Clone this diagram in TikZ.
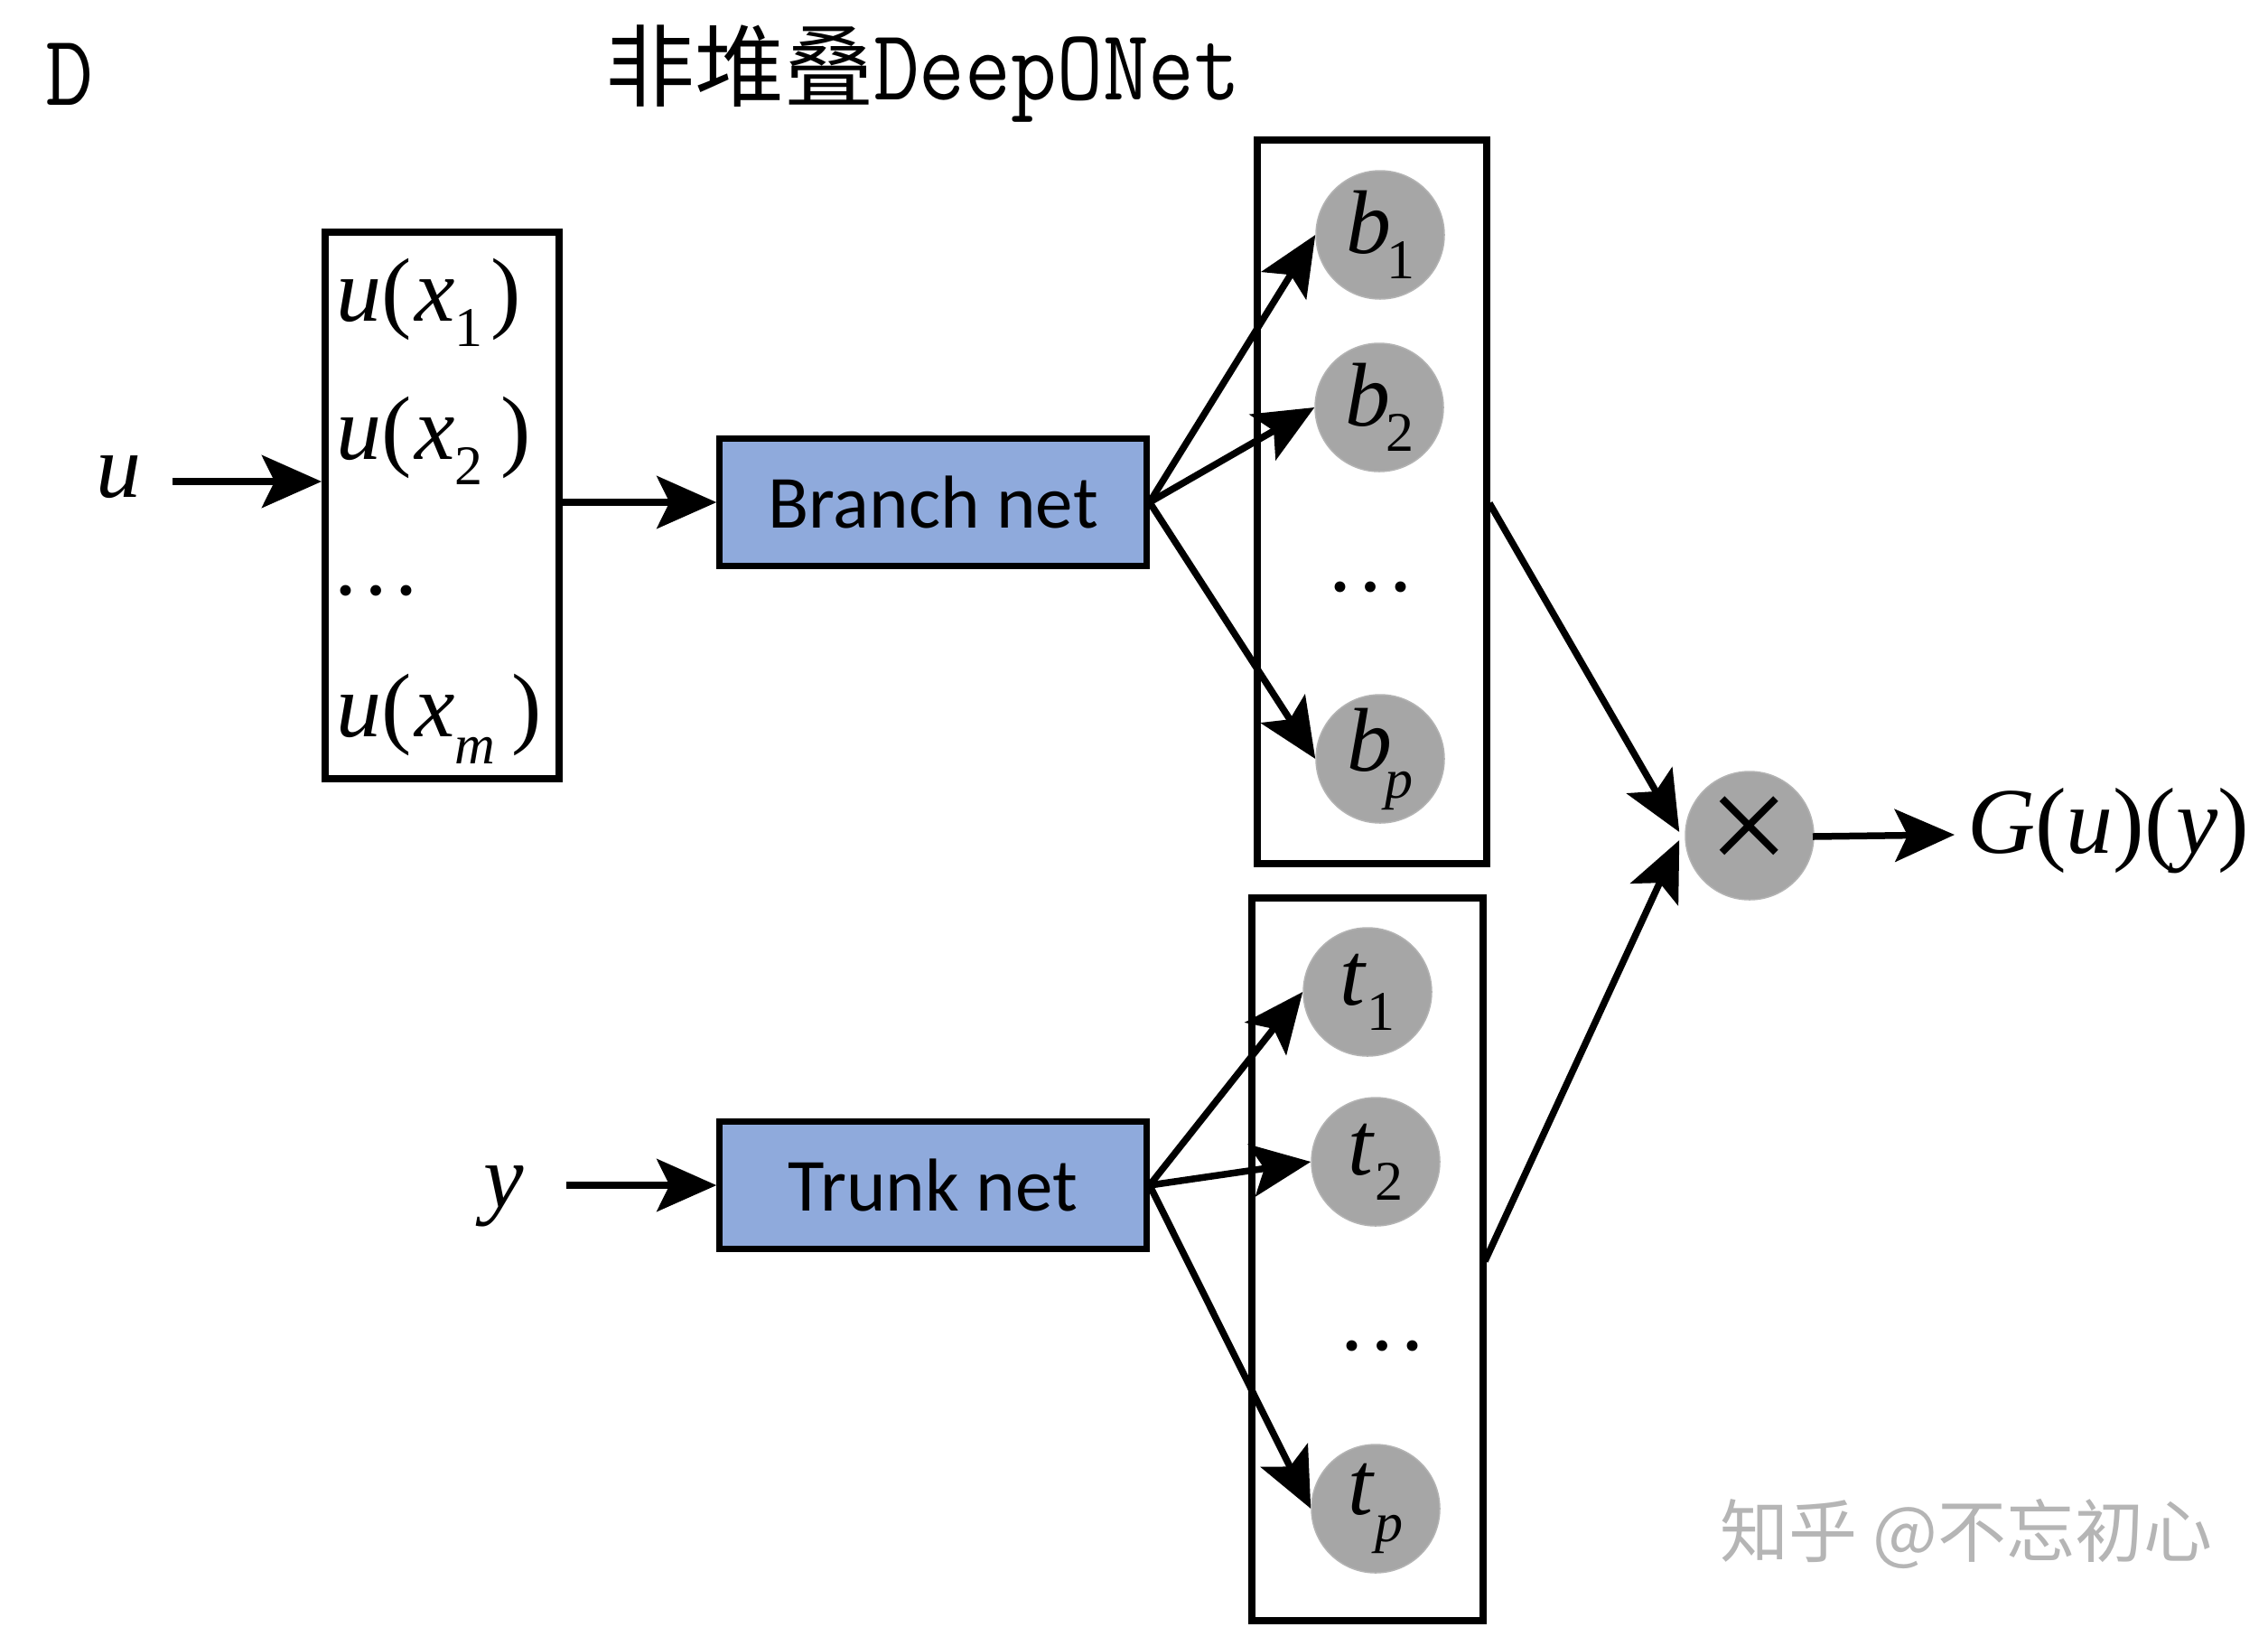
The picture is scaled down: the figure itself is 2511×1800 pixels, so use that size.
\documentclass[tikz,border=0pt]{standalone}
\usepackage{fontspec}
\usepackage{graphicx}
\usetikzlibrary{arrows.meta}
\setmainfont{Liberation Serif}
\newfontfamily\cjkfont{Noto Sans CJK SC}
\newfontfamily\calib{Carlito}
\newcommand{\fsz}[1]{\fontsize{#1pt}{#1pt}\selectfont}
\newcommand{\sbs}[1]{\raisebox{-28pt}{\fsz{62}\upshape #1}}
\newcommand{\sbi}[1]{\raisebox{-30pt}{\fsz{62}\itshape #1}}
\newcommand{\lp}{{\upshape(}}
\newcommand{\rp}{{\upshape)}}
\definecolor{netblue}{HTML}{8FAADC}
\definecolor{dotgray}{HTML}{A6A6A6}
\definecolor{wm}{HTML}{B5B5B5}
\tikzset{
  frame/.style={draw=black,line width=7.5pt,fill=white,inner sep=0pt,anchor=north west},
  netbox/.style={draw=black,line width=6.5pt,fill=netblue,inner sep=0pt,minimum width=473pt,minimum height=141pt,font=\calib\fsz{83}},
  unit/.style={circle,fill=dotgray,draw=dotgray!85!white,line width=1.5pt,inner sep=0pt,minimum size=142pt,font=\fsz{100}},
  lab/.style={inner sep=0pt,font=\fsz{100}},
  conn/.style={line width=7.5pt,-{Stealth[length=66pt,width=58pt,inset=14pt]}},
}
\begin{document}
\begin{tikzpicture}[x=1pt,y=-1pt]
\useasboundingbox (0,0) rectangle (2511,1800);
% titles
\node[inner sep=0pt] (panel) at (77,82) {\scalebox{.92}[1]{\ttfamily\fsz{112}D}};
\node[inner sep=0pt,anchor=west] (title) at (670,82) {\cjkfont\fsz{99}非堆叠\scalebox{.88}[1]{\ttfamily\fsz{112}DeepONet}};
% frames
\node[frame,minimum width=259pt,minimum height=605pt] (inputs) at (356,253) {};
\node[frame,minimum width=254pt,minimum height=801pt] (bbox) at (1388,151) {};
\node[frame,minimum width=256pt,minimum height=800pt] (tbox) at (1382,990) {};
% nets
\node[netbox] (branch) at (1033,556) {Branch net};
\node[netbox] (trunk) at (1033,1312) {Trunk net};
% labels
\node[lab] (u) at (131,528) {\itshape u};
\node[lab] (y) at (558,1324) {\itshape y};
\node[lab,anchor=west] (ux1) at (372,335) {\itshape u\lp\kern4pt x\sbs{1}\kern9pt\rp};
\node[lab,anchor=west] (ux2) at (372,488) {\itshape u\lp\kern4pt x\sbs{2}\kern20pt\rp};
\node[lab] (udots) at (416,654) {…};
\node[lab,anchor=west] (uxm) at (372,796) {\itshape u\lp\kern4pt x\sbi{m}\kern18pt\rp};
% free ends
\coordinate (ustart) at (191,533);
\coordinate (ystart) at (627,1312);
% connectors
\draw[conn] (ustart) -- (inputs.west |- ustart);
\draw[conn] (inputs.east |- branch.west) -- (branch.west);
\draw[conn] (ystart) -- (trunk.west);
% units
\node[unit] (b1) at (1528,260) {\raisebox{-4pt}{\itshape b\kern-5pt\sbs{1}}};
\node[unit] (b2) at (1527,451) {\raisebox{-4pt}{\itshape b\kern-5pt\sbs{2}}};
\node[lab] (bdots) at (1517,650) {…};
\node[unit] (bp) at (1528,840) {\raisebox{-2pt}{\itshape b\kern-8pt\sbi{p}}};
\node[unit] (t1) at (1514,1098) {\raisebox{-5pt}{\itshape t\kern3pt\sbs{1}}};
\node[unit] (t2) at (1523,1286) {\raisebox{-5pt}{\itshape t\kern2pt\sbs{2}}};
\node[lab] (tdots) at (1530,1490) {…};
\node[unit] (tp) at (1523,1670) {\raisebox{-2pt}{\itshape t\kern2pt\sbi{p}}};
\node[unit] (times) at (1937,925) {};
\node[lab,font=\fsz{160}] (timesmark) at (1937,925) {×};
\node[lab,anchor=west] (gout) at (2178,920) {\fsz{104}\itshape G\lp u\rp\lp y\rp};
\coordinate (bout) at (1649,557);
\coordinate (tout) at (1644,1396);
\coordinate (gstart) at (2007,926);
\coordinate (gend) at (2164,924);
\draw[conn] (branch.east) -- (b1.west);
\draw[conn] (branch.east) -- (b2.west);
\draw[conn] (branch.east) -- (bp.west);
\draw[conn] (trunk.east) -- (t1.west);
\draw[conn] (trunk.east) -- (t2.west);
\draw[conn] (trunk.east) -- (tp.west);
\draw[conn] (bout) -- ([xshift=-6pt,yshift=4pt]times.west);
\draw[conn] (tout) -- ([xshift=-6pt,yshift=-5pt]times.west);
\draw[conn] (gstart) -- (gend);
\node[inner sep=0pt,text=wm,font=\cjkfont\fsz{76}] (mark) at (2177,1698) {知乎 @不忘初心};
\end{tikzpicture}
\end{document}
